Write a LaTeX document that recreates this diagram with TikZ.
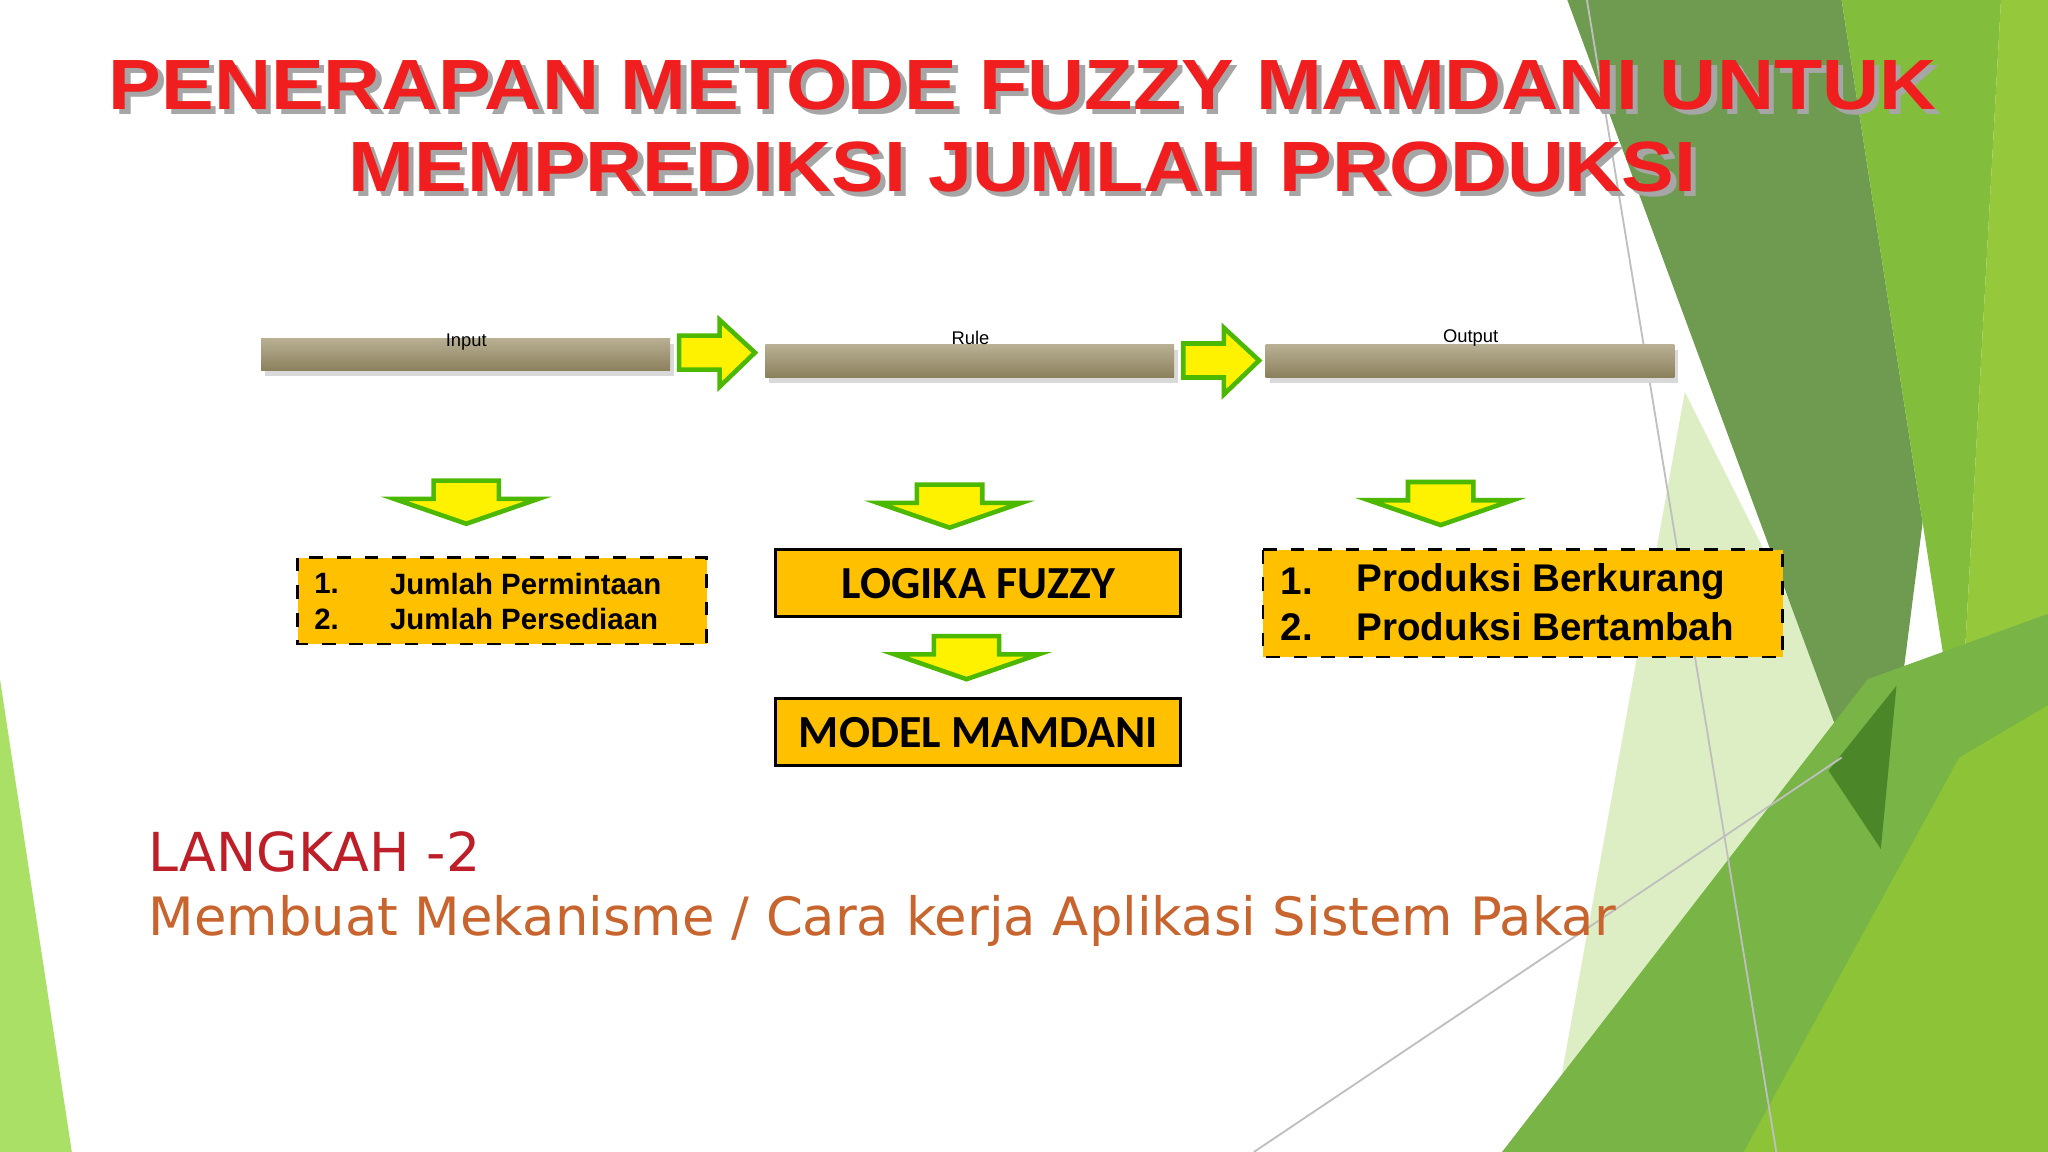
\documentclass[tikz,border=0pt]{standalone}
\usepackage{fontspec}
\setmainfont{Liberation Sans}
\newfontfamily\dvs{DejaVu Sans}
\newfontfamily\carl{Carlito}
\begin{document}
\begin{tikzpicture}[x=0.01cm,y=-0.01cm,
  ttl/.style={font=\fontsize{15.5}{18}\selectfont\bfseries,inner sep=0,xscale=1.11},
  barlbl/.style={font=\fontsize{4}{5}\selectfont,inner sep=0},
  arr/.style={fill=yellow,draw=green!60!black!70!yellow,line width=1pt,line join=miter}]
\definecolor{tred}{HTML}{F01E1E}
\definecolor{box}{HTML}{FFC000}
\definecolor{bar}{HTML}{9A8E66}
\useasboundingbox (0,0) rectangle (1568,882);
\fill[white] (0,0) rectangle (1568,882);
% green decorations
\fill[green!50!black!40!lime!60] (0,520) -- (55,882) -- (0,882) -- cycle;
\fill[color={rgb,255:red,222;green,238;blue,196}] (1290,300) -- (1420,560) -- (1230,882) -- (1185,882) -- cycle;
\fill[color={rgb,255:red,110;green,155;blue,80}] (1200,0) -- (1410,0) -- (1472,400) -- (1440,650) -- cycle;
\fill[color={rgb,255:red,130;green,190;blue,60}] (1410,0) -- (1532,0) -- (1500,580) -- (1472,400) -- cycle;
\fill[color={rgb,255:red,150;green,200;blue,60}] (1532,0) -- (1568,0) -- (1568,882) -- (1500,580) -- cycle;
\fill[color={rgb,255:red,120;green,180;blue,70}] (1150,882) -- (1430,520) -- (1568,470) -- (1568,882) -- cycle;
\fill[color={rgb,255:red,75;green,135;blue,40}] (1400,590) -- (1452,525) -- (1440,650) -- cycle;
\fill[color={rgb,255:red,140;green,195;blue,55}] (1335,882) -- (1500,580) -- (1568,540) -- (1568,882) -- cycle;
\draw[gray!50,line width=0.4pt] (1215,0) -- (1360,882);
\draw[gray!50,line width=0.4pt] (960,882) -- (1410,580);
% title
\foreach \t/\yy in {{PENERAPAN METODE FUZZY MAMDANI UNTUK}/65,{MEMPREDIKSI JUMLAH PRODUKSI}/128}{
  \node[ttl,text=gray!70] at (787,\yy+4) {\t};
  \node[ttl,text=tred] (t\yy) at (783,\yy) {\t};
}
% bars
\foreach \x/\yy in {200/259,586/264,969/264}{
  \fill[gray!30] (\x+3,\yy+4) rectangle (\x+316,\yy+29);
  \shade[top color=bar!70!white,bottom color=bar!90!black] (\x,\yy) rectangle (\x+313,\yy+25);
}
\node[barlbl] (bi) at (357,262) {Input};
\node[barlbl] (br) at (743,259) {Rule};
\node[barlbl] (bo) at (1126,259) {Output};
% right arrows
\foreach \x/\yy in {520/270,906/276}{
  \draw[arr] (\x,\yy-13) -- (\x+31,\yy-13) -- (\x+31,\yy-25) -- (\x+58,\yy) -- (\x+31,\yy+26) -- (\x+31,\yy+13) -- (\x,\yy+13) -- cycle;
}
% down arrows
\foreach \cx/\yy in {357/368,727/371,1103/369,740/487}{
  \draw[arr] (\cx-25,\yy) -- (\cx+25,\yy) -- (\cx+25,\yy+14) -- (\cx+55,\yy+14) -- (\cx,\yy+33) -- (\cx-55,\yy+14) -- (\cx-25,\yy+14) -- cycle;
}
% boxes
\draw[fill=box,dashed,line width=0.6pt] (228,427) rectangle (541,493);
\node[inner sep=0,anchor=west,font=\fontsize{6.4}{8}\selectfont\bfseries] (i1) at (240,447) {1.};
\node[inner sep=0,anchor=west,font=\fontsize{6.4}{8}\selectfont\bfseries] (i1t) at (298,447) {Jumlah Permintaan};
\node[inner sep=0,anchor=west,font=\fontsize{6.4}{8}\selectfont\bfseries] (i2) at (240,474) {2.};
\node[inner sep=0,anchor=west,font=\fontsize{6.4}{8}\selectfont\bfseries] (i2t) at (298,474) {Jumlah Persediaan};
\draw[fill=box,line width=0.6pt] (594,421) rectangle (904,472);
\node[inner sep=0,font=\carl\fontsize{10}{11}\selectfont\bfseries] (lf) at (749,447) {LOGIKA FUZZY};
\draw[fill=box,line width=0.6pt] (594,535) rectangle (904,586);
\node[inner sep=0,font=\carl\fontsize{10}{11}\selectfont\bfseries] (mm) at (749,561) {MODEL MAMDANI};
\draw[fill=box,dashed,line width=0.6pt] (967,421) rectangle (1365,503);
\node[inner sep=0,anchor=west,font=\fontsize{8.4}{10}\selectfont\bfseries] (o1) at (980,445) {1.};
\node[inner sep=0,anchor=west,font=\fontsize{8.4}{10}\selectfont\bfseries] (o1t) at (1038,445) {Produksi Berkurang};
\node[inner sep=0,anchor=west,font=\fontsize{8.4}{10}\selectfont\bfseries] (o2) at (980,480) {2.};
\node[inner sep=0,anchor=west,font=\fontsize{8.4}{10}\selectfont\bfseries] (o2t) at (1038,480) {Produksi Bertambah};
% bottom text
\node[inner sep=0,anchor=west,font=\dvs\fontsize{11.7}{14}\selectfont,text={rgb,255:red,190;green,30;blue,40}] (lk) at (113,652) {LANGKAH -2};
\node[inner sep=0,anchor=west,font=\dvs\fontsize{11.5}{14}\selectfont,text={rgb,255:red,200;green,100;blue,45}] (mk) at (113,705) {Membuat Mekanisme / Cara kerja Aplikasi Sistem Pakar};
\end{tikzpicture}
\end{document}
